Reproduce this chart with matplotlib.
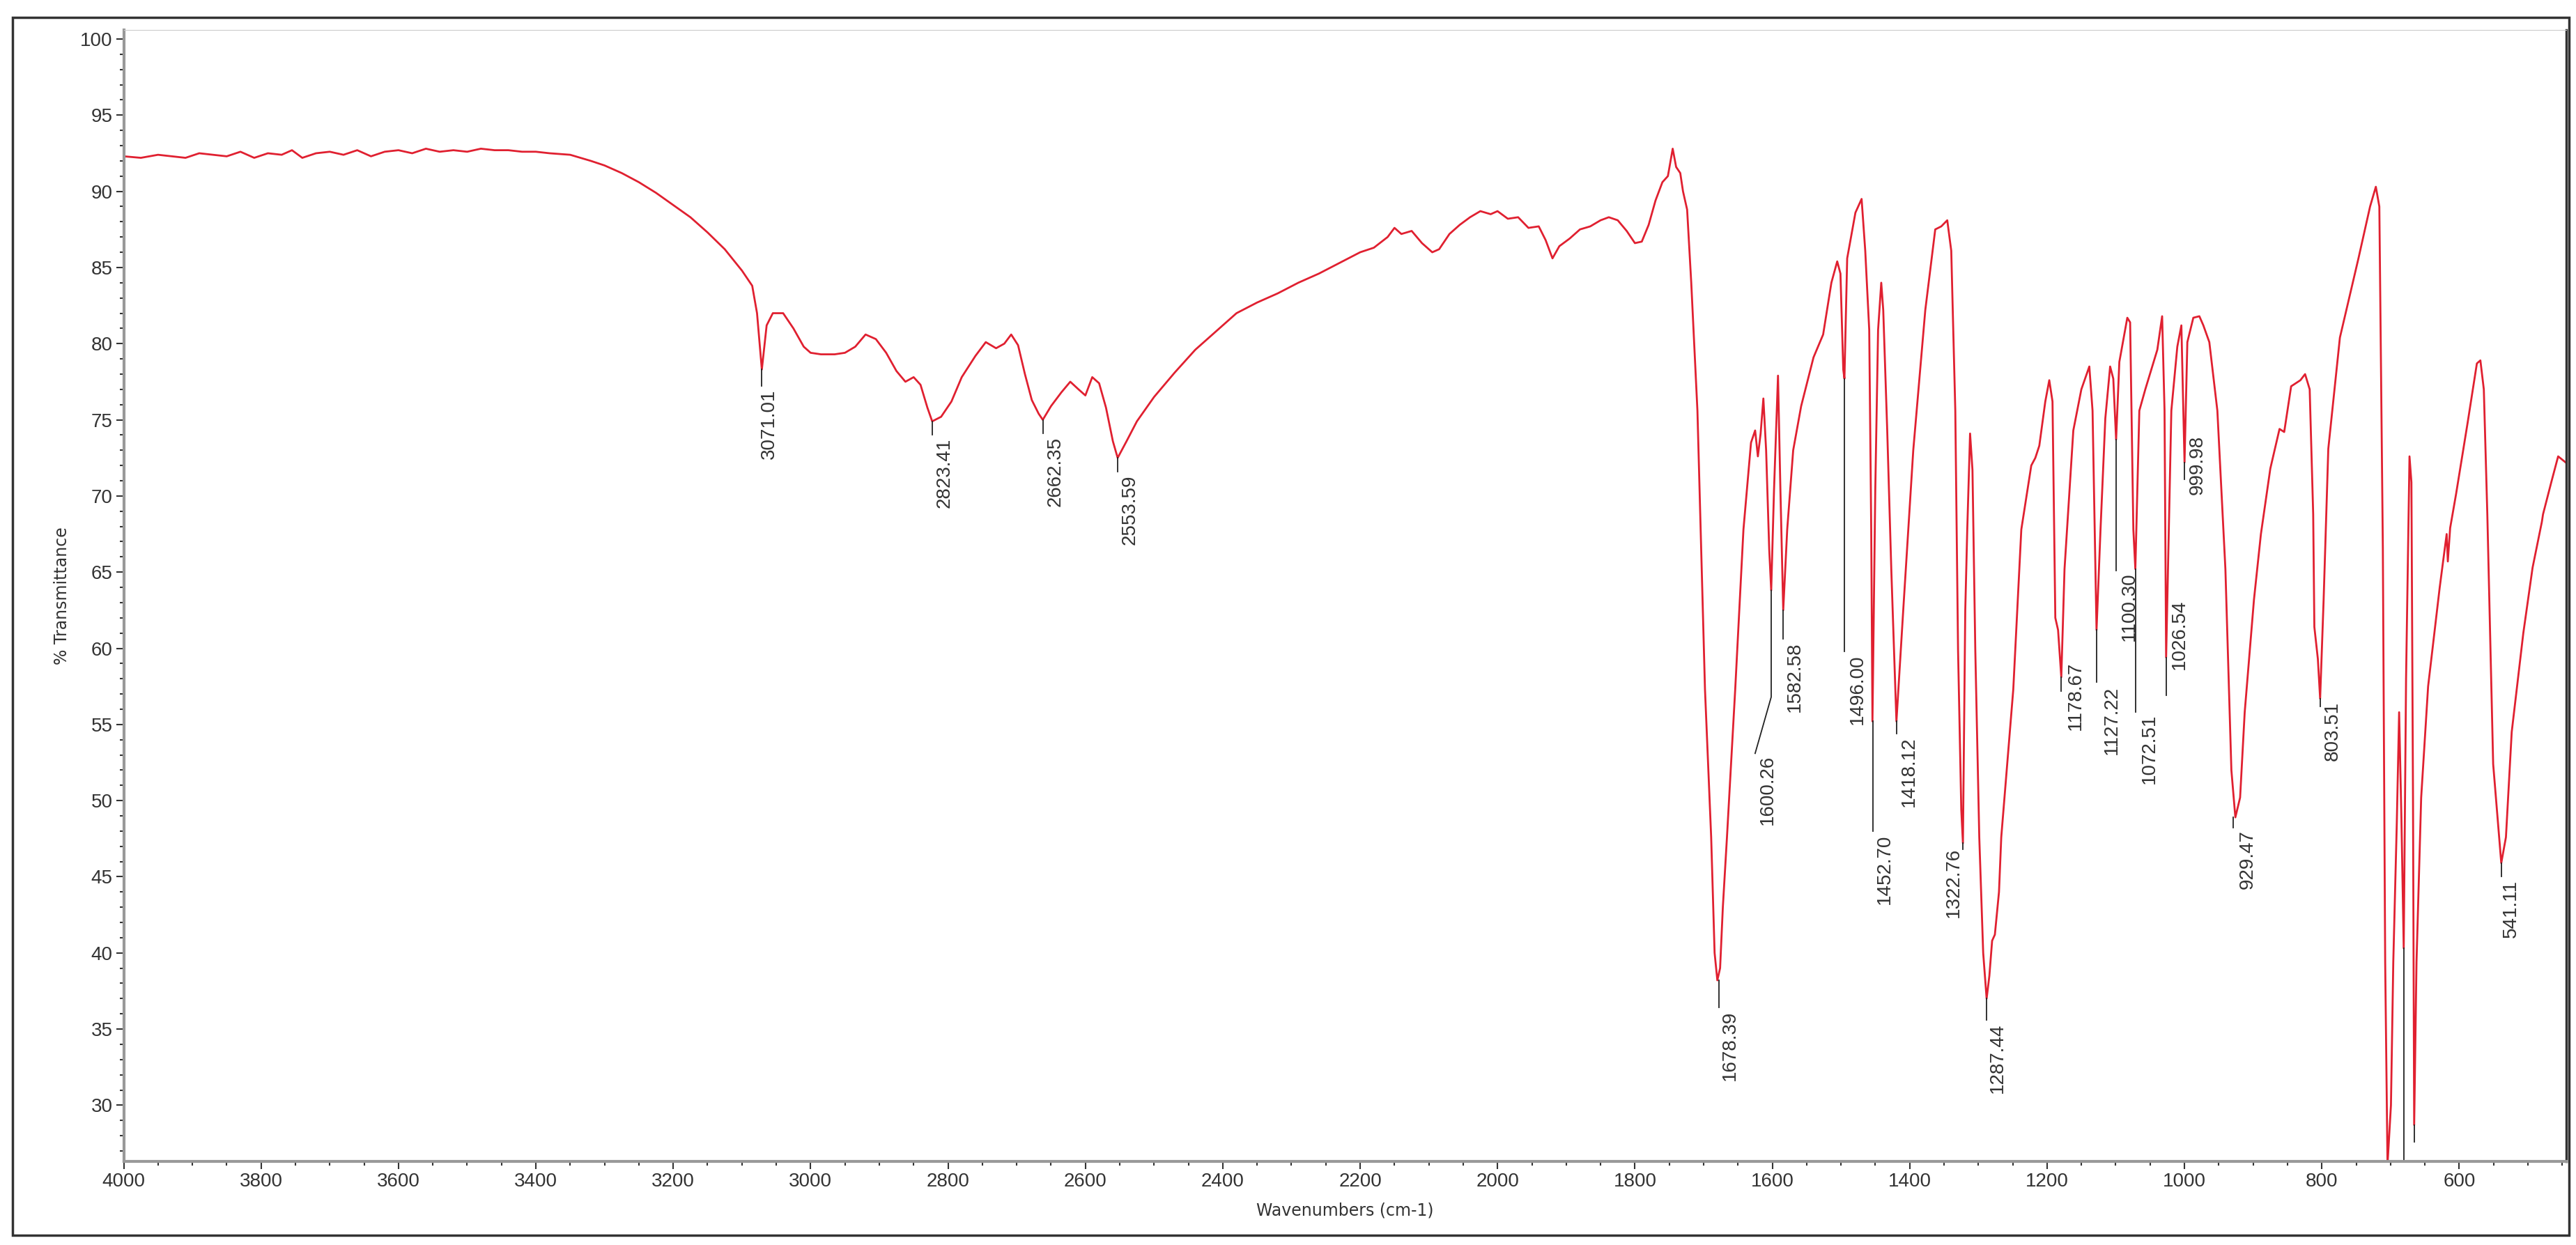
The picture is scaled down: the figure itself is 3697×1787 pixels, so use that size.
import numpy as np
import matplotlib.pyplot as plt
from matplotlib.patches import Rectangle
from matplotlib.ticker import MultipleLocator

# spectrum (wavenumber, %T)
wn = [4000, 3975, 3950, 3930, 3910, 3890, 3870, 3850, 3830, 3810, 3790, 3770, 3755, 3740,
      3720, 3700, 3680, 3660, 3640, 3620, 3600, 3580, 3560, 3540, 3520, 3500, 3480, 3460,
      3440, 3420, 3400, 3380, 3350, 3320, 3300, 3275, 3250, 3225, 3200, 3175, 3150, 3125,
      3100, 3085, 3078, 3071, 3064, 3055, 3040, 3025, 3010, 3000, 2985, 2965, 2950, 2935,
      2920, 2905, 2890, 2875, 2862, 2850, 2840, 2830, 2823, 2810, 2795, 2780, 2760, 2745,
      2730, 2718, 2708, 2698, 2688, 2678, 2668, 2662, 2650, 2635, 2622, 2610, 2600, 2590,
      2580, 2570, 2560, 2553, 2540, 2525, 2500, 2470, 2440, 2410, 2380, 2350, 2320, 2290,
      2260, 2230, 2200, 2180, 2160, 2150, 2140, 2125, 2110, 2095, 2085, 2070, 2055, 2040,
      2025, 2010, 2000, 1985, 1970, 1955, 1940, 1930, 1920, 1910, 1895, 1880, 1865, 1850,
      1838, 1825, 1812, 1800, 1790, 1780, 1770, 1760, 1752, 1745, 1740, 1734, 1730, 1724,
      1718, 1709, 1698, 1689, 1684, 1680, 1676, 1672, 1666, 1654, 1642, 1631, 1625, 1621,
      1617, 1613, 1609, 1604.5, 1601.6, 1597.5, 1591.7, 1588.2, 1584.1, 1578.3, 1569.6, 1558,
      1540, 1526, 1514, 1505.5, 1500.8, 1496.7, 1495, 1491, 1479, 1470, 1464.7, 1458.9,
      1456, 1454.2, 1450.1, 1446, 1441.4, 1438.5, 1432.7, 1426.8, 1419.3, 1409.4, 1394.8,
      1377.3, 1362.8, 1354, 1345.3, 1339.5, 1333.6, 1329.6, 1324.9, 1322.5, 1319.1, 1316.2,
      1312.1, 1308.6, 1304.5, 1298.7, 1293, 1288, 1284, 1280, 1276, 1270, 1266.7, 1249.2,
      1237.5, 1223, 1217.1, 1211.3, 1202.6, 1196.8, 1192.1, 1188, 1184, 1179.3, 1174.6,
      1161.8, 1150.1, 1138.5, 1133.8, 1128, 1122.2, 1115.2, 1108.2, 1103.6, 1099.5, 1094.8,
      1083.2, 1079.1, 1074.4, 1071.5, 1065.7, 1057, 1039.5, 1032.5, 1029, 1026.7, 1019.1,
      1010.4, 1004.5, 999.9, 995.8, 987.1, 978.3, 972.5, 963.8, 952.1, 940.4, 931.7, 925.9,
      919, 912.3, 898.8, 888.7, 875, 861.6, 854.8, 844.7, 831.2, 824.4, 817.7, 812.6,
      810.9, 805.8, 802.5, 797.4, 790.6, 773.7, 746.7, 729.8, 721.4, 716.3, 711.2, 707.8,
      704.4, 699.4, 696, 690.9, 687.5, 684.2, 680.8, 677.4, 672.4, 669.6, 667.3, 665.6,
      662.2, 655.4, 645.3, 628.4, 618.3, 616.6, 613.2, 604.7, 587.8, 574.3, 569.2, 564.2,
      559.1, 550.6, 538.8, 532, 523.6, 506.7, 493.2, 479.7, 478, 466, 456, 445]
tr = [92.3, 92.2, 92.4, 92.3, 92.2, 92.5, 92.4, 92.3, 92.6, 92.2, 92.5, 92.4, 92.7, 92.2,
      92.5, 92.6, 92.4, 92.7, 92.3, 92.6, 92.7, 92.5, 92.8, 92.6, 92.7, 92.6, 92.8, 92.7,
      92.7, 92.6, 92.6, 92.5, 92.4, 92.0, 91.7, 91.2, 90.6, 89.9, 89.1, 88.3, 87.3, 86.2,
      84.8, 83.8, 82.0, 78.3, 81.2, 82.0, 82.0, 81.0, 79.8, 79.4, 79.3, 79.3, 79.4, 79.8,
      80.6, 80.3, 79.4, 78.2, 77.5, 77.8, 77.3, 75.8, 74.9, 75.2, 76.2, 77.8, 79.2, 80.1,
      79.7, 80.0, 80.6, 79.9, 78.0, 76.3, 75.4, 75.0, 75.9, 76.8, 77.5, 77.0, 76.6, 77.8,
      77.4, 75.8, 73.6, 72.5, 73.6, 74.9, 76.5, 78.1, 79.6, 80.8, 82.0, 82.7, 83.3, 84.0,
      84.6, 85.3, 86.0, 86.3, 87.0, 87.6, 87.2, 87.4, 86.6, 86.0, 86.2, 87.2, 87.8, 88.3,
      88.7, 88.5, 88.7, 88.2, 88.3, 87.6, 87.7, 86.8, 85.6, 86.4, 86.9, 87.5, 87.7, 88.1,
      88.3, 88.1, 87.4, 86.6, 86.7, 87.8, 89.4, 90.6, 91.0, 92.8, 91.6, 91.2, 90.0, 88.8,
      84.0, 75.6, 57.3, 47.6, 40.0, 38.2, 39.0, 43.0, 47.6, 57.3, 67.8, 73.5, 74.3, 72.6,
      74.1, 76.4, 73.0, 66.5, 63.8, 70.4, 77.9, 70.4, 62.5, 67.8, 73.0, 75.9,
      79.1, 80.6, 84.0, 85.4, 84.6, 78.3, 77.7, 85.6, 88.6, 89.5, 86.1, 80.9,
      67.8, 55.2, 70.4, 80.9, 84.0, 82.2, 74.3, 65.2, 55.2, 62.5, 73.0,
      82.2, 87.5, 87.7, 88.1, 86.1, 75.6, 59.9, 49.4, 47.2, 62.5, 67.8,
      74.1, 71.7, 59.9, 47.6, 40.0, 37.0, 38.5, 40.8, 41.2, 44.0, 47.6, 57.3,
      67.8, 72.0, 72.5, 73.3, 76.2, 77.6, 76.2, 62.0, 61.2, 58.1, 65.2,
      74.3, 77.0, 78.5, 75.6, 61.2, 67.8, 75.1, 78.5, 77.7, 73.7, 78.8,
      81.7, 81.4, 67.8, 65.2, 75.6, 77.0, 79.6, 81.8, 75.6, 59.4, 75.6,
      79.8, 81.2, 72.2, 80.1, 81.7, 81.8, 81.2, 80.1, 75.6, 65.2, 52.0, 48.9,
      50.2, 55.8, 63.2, 67.5, 71.8, 74.4, 74.2, 77.2, 77.6, 78.0, 77.0, 68.8,
      61.4, 59.3, 56.7, 63.2, 73.1, 80.4, 85.6, 89.0, 90.3, 89.0, 66.6, 39.4,
      26.1, 30.0, 39.4, 48.5, 55.8, 48.9, 40.3, 58.0, 72.6, 70.9, 50.2, 28.7,
      39.4, 50.2, 57.5, 64.0, 67.5, 65.7, 67.9, 70.1, 74.8, 78.7, 78.9, 77.0,
      68.8, 52.4, 45.9, 47.6, 54.5, 61.0, 65.3, 68.3, 68.8, 70.9, 72.6, 72.2]

# peak labels: text, leader line x/y, text x, text top
labels = ["3071.01", "2823.41", "2662.35", "2553.59", "1678.39", "1600.26", "1582.58",
          "1496.00", "1452.70", "1418.12", "1322.76", "1287.44", "1178.67", "1127.22",
          "1100.30", "1072.51", "1026.54", "999.98", "929.47", "803.51", "541.11"]
lead_x = [[3071, 3071], [2823, 2823], [2662, 2662], [2553, 2553], [1678, 1678],
          [1601.6, 1601.6, 1625], [1584, 1584], [1495, 1495], [1453.5, 1453.5],
          [1419, 1419], [1322.5, 1322.5], [1288, 1288], [1179.3, 1179.3], [1128, 1128],
          [1099.5, 1099.5], [1071.5, 1071.5], [1026.7, 1026.7], [999.9, 999.9],
          [929.5, 929.5], [802.5, 802.5], [538.8, 538.8]]
lead_y = [[78.3, 77.2], [74.9, 74.0], [75.0, 74.1], [72.5, 71.6], [38.2, 36.4],
          [63.8, 56.8, 53.1], [62.5, 60.6], [77.7, 59.8], [55.2, 48.0],
          [55.2, 54.4], [47.2, 46.8], [37.0, 35.6], [58.1, 57.2], [61.2, 57.8],
          [73.7, 65.1], [65.2, 55.8], [59.4, 56.9], [72.2, 71.1],
          [48.9, 48.2], [56.7, 56.2], [45.9, 45.0]]
text_x = [3060, 2805, 2644, 2535, 1662, 1607, 1567, 1476, 1436, 1401, 1336, 1272,
          1158, 1106, 1080, 1051, 1007, 981, 908, 784, 524]
text_top = [77.0, 73.8, 73.9, 71.4, 36.2, 53.0, 60.4, 59.6, 47.8, 54.2, 46.9, 35.4,
            59.1, 57.5, 65.0, 55.7, 63.2, 74.0, 48.1, 56.5, 44.8]

fig = plt.figure(figsize=(36.98, 17.87), dpi=100)
fig.patches.append(Rectangle((0.005, 0.008), 0.992, 0.978, transform=fig.transFigure,
                             fill=False, ec='#333333', lw=2.5))
ax = fig.add_axes([0.048, 0.067, 0.948, 0.909])
ax.plot(wn, tr, color='#e02030', lw=2)

for t, lx, ly, tx, ty in zip(labels, lead_x, lead_y, text_x, text_top):
    ax.plot(lx, ly, color='#222222', lw=1.3)
    ax.text(tx, ty, t, rotation=90, ha='center', va='top', fontsize=20,
            color='#333333', family=['Liberation Sans', 'DejaVu Sans'])

# leader lines whose labels fall below the axis
ax.plot([680.8, 680.8], [40.3, 26.3], color='#222222', lw=1.3)
ax.plot([665.6, 665.6], [28.7, 27.6], color='#222222', lw=1.3)

ax.set_xlim(4000, 444)
ax.set_ylim(26.3, 100.6)
ax.xaxis.set_major_locator(MultipleLocator(200))
ax.xaxis.set_minor_locator(MultipleLocator(50))
ax.yaxis.set_major_locator(MultipleLocator(5))
ax.yaxis.set_minor_locator(MultipleLocator(1))
ax.set_yticks(np.arange(30, 101, 5))
ax.tick_params(axis='both', which='major', labelsize=20, colors='#333333', length=8, width=1.5)
ax.tick_params(axis='both', which='minor', length=4, width=1.5, colors='#333333')
for lab in ax.get_xticklabels() + ax.get_yticklabels():
    lab.set_family(['Liberation Sans Narrow', 'Liberation Sans'])
for s in ['left', 'bottom']:
    ax.spines[s].set_color('#999999')
    ax.spines[s].set_linewidth(3)
ax.spines['top'].set_color('#cccccc')
ax.spines['right'].set_color('#333333')
ax.spines['right'].set_linewidth(2.5)
ax.set_xlabel('Wavenumbers (cm-1)', fontsize=17, color='#333333', labelpad=12)
ax.set_ylabel('% Transmittance', fontsize=17, color='#333333', labelpad=10)

fig.savefig('out.png', dpi=100)
